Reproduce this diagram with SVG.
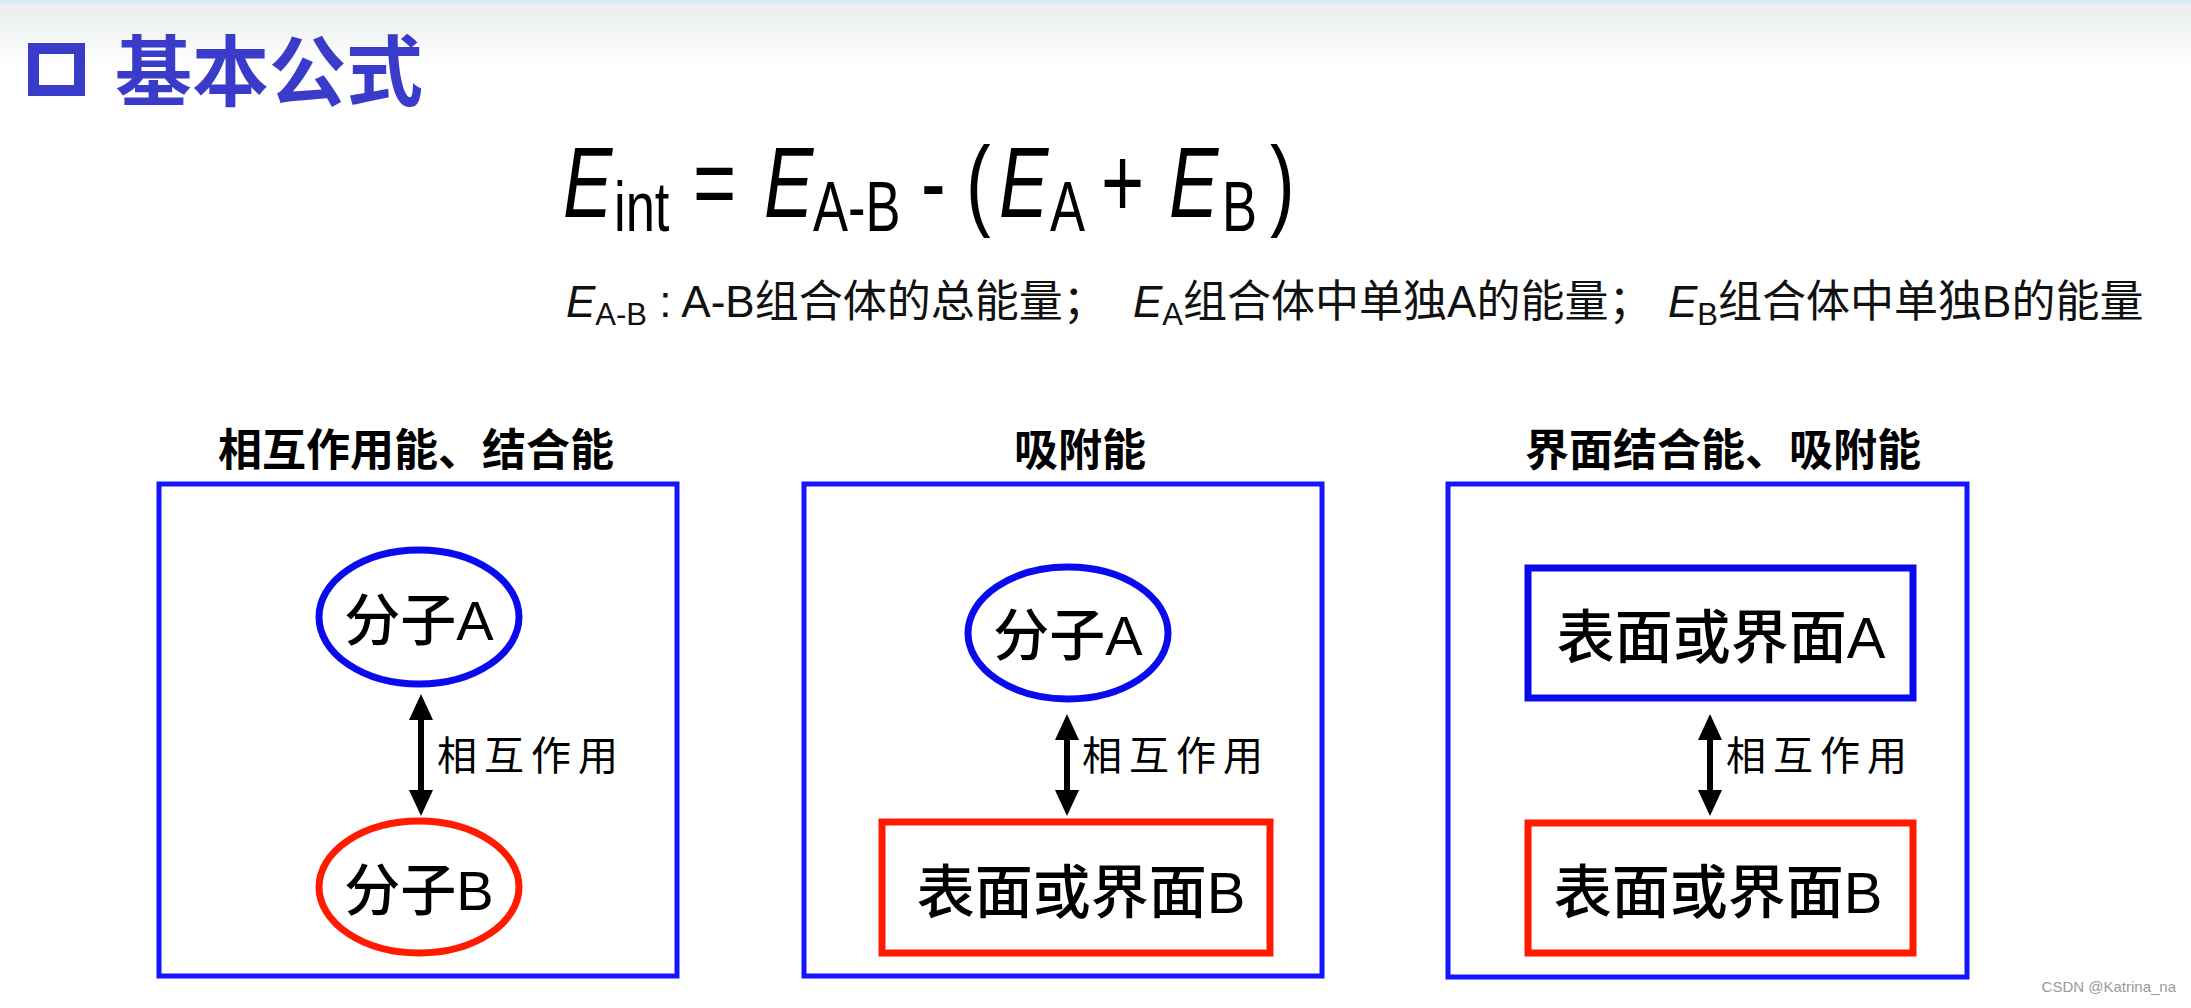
<svg xmlns="http://www.w3.org/2000/svg" width="2191" height="1008" viewBox="0 0 2191 1008">
<defs>
<linearGradient id="topband" x1="0" y1="0" x2="0" y2="1">
<stop offset="0" stop-color="#e9eded"/>
<stop offset="1" stop-color="#ffffff"/>
</linearGradient>
<marker id="ah" viewBox="0 0 26 24" refX="6" refY="12" markerWidth="26" markerHeight="24" markerUnits="userSpaceOnUse" orient="auto-start-reverse">
<path d="M0,0 L26,12 L0,24 z" fill="#000"/>
</marker>
</defs>
<style>
.title{font-family:"Noto Sans CJK SC",sans-serif;font-weight:bold;font-size:77px;fill:#3b3bc9}
.f{font-family:"Liberation Sans","Noto Sans CJK SC",sans-serif;fill:#000}
.fb{font-size:100px}
.fs{font-size:71px}
.it{font-style:italic}
.sub{font-family:"Liberation Sans","Noto Sans CJK SC",sans-serif;font-size:44px;fill:#111}
.ptitle{font-family:"Noto Sans CJK SC",sans-serif;font-weight:bold;font-size:44px;fill:#000;text-anchor:middle}
.panel{fill:none;stroke:#1414ff;stroke-width:5}
.blue{fill:none;stroke:#0a0aee;stroke-width:7}
.red{fill:none;stroke:#ff1a00;stroke-width:7}
.node{font-family:"Liberation Sans","Noto Sans CJK SC",sans-serif;font-size:56px;fill:#000;text-anchor:middle;font-weight:500}
.node2{font-family:"Liberation Sans","Noto Sans CJK SC",sans-serif;font-size:58px;fill:#000;text-anchor:middle;font-weight:500}
.lbl{font-family:"Noto Sans CJK SC",sans-serif;font-size:40px;fill:#000;letter-spacing:7px}
.arr{stroke:#000;stroke-width:6;fill:none;marker-start:url(#ah);marker-end:url(#ah)}
.wm{font-family:"Liberation Sans",sans-serif;font-size:15px;fill:#999;text-anchor:end}
</style>
<rect x="0" y="0" width="2191" height="1008" fill="#fff"/>
<rect x="0" y="0" width="2191" height="70" fill="url(#topband)"/>
<rect x="0" y="0" width="2191" height="3" fill="#d4ecf2"/>

<g id="heading">
<rect x="33.5" y="48.5" width="46" height="42" fill="none" stroke="#3b3bc9" stroke-width="11"/>
<text class="title" x="115" y="100">基本公式</text>
</g>

<g id="formula" transform="scale(0.74,1)">
<text class="f fb it" x="760.8" y="217">E</text>
<text class="f fs" x="829.7" y="231">int</text>
<text class="f fb" x="936.5" y="217">=</text>
<text class="f fb it" x="1032.4" y="217">E</text>
<text class="f fs" x="1098.6" y="231">A-B</text>
<text class="f fb" x="1244.6" y="217">-</text>
<text class="f fb" x="1305.4" y="217">(</text>
<text class="f fb it" x="1350" y="217">E</text>
<text class="f fs" x="1418.9" y="231">A</text>
<text class="f fb" x="1487.8" y="217">+</text>
<text class="f fb it" x="1579.7" y="217">E</text>
<text class="f fs" x="1651.4" y="231">B</text>
<text class="f fb" x="1716.2" y="217">)</text>
</g>

<g id="legend">
<text class="sub" x="566" y="317"><tspan class="it">E</tspan><tspan font-size="31" dy="8">A-B</tspan><tspan dy="-8"> : A-B组合体的总能量；</tspan><tspan class="it" x="1133">E</tspan><tspan font-size="31" dy="8">A</tspan><tspan dy="-8">组合体中单独A的能量；</tspan><tspan class="it" x="1668">E</tspan><tspan font-size="31" dy="8">B</tspan><tspan dy="-8">组合体中单独B的能量</tspan></text>
</g>

<g id="panel1">
<text class="ptitle" x="416" y="466">相互作用能、结合能</text>
<rect class="panel" x="159" y="484" width="518" height="492"/>
</g>
<g id="node-p1-A">
<ellipse class="blue" cx="419" cy="617" rx="100" ry="67"/>
<text class="node" x="419" y="640">分子A</text>
</g>
<g id="node-p1-B">
<ellipse class="red" cx="419" cy="887" rx="100" ry="66"/>
<text class="node" x="419" y="910">分子B</text>
</g>

<g id="panel2">
<text class="ptitle" x="1080" y="466">吸附能</text>
<rect class="panel" x="804" y="484" width="518" height="492"/>
</g>
<g id="node-p2-A">
<ellipse class="blue" cx="1068" cy="633" rx="100" ry="66"/>
<text class="node" x="1068" y="655">分子A</text>
</g>
<g id="node-p2-B">
<rect class="red" x="882" y="822" width="388" height="131"/>
<text class="node2" x="1081" y="913">表面或界面B</text>
</g>

<g id="panel3">
<text class="ptitle" x="1723" y="466">界面结合能、吸附能</text>
<rect class="panel" x="1448" y="484" width="519" height="493"/>
</g>
<g id="node-p3-A">
<rect class="blue" x="1528" y="568" width="385" height="130"/>
<text class="node2" x="1721" y="658">表面或界面A</text>
</g>
<g id="node-p3-B">
<rect class="red" x="1528" y="823" width="385" height="130"/>
<text class="node2" x="1718" y="913">表面或界面B</text>
</g>

<g id="connectors">
<line class="arr" x1="421" y1="714" x2="421" y2="796"/>
<text class="lbl" x="437" y="770">相互作用</text>
<line class="arr" x1="1067" y1="734" x2="1067" y2="796"/>
<text class="lbl" x="1082" y="770">相互作用</text>
<line class="arr" x1="1710" y1="734" x2="1710" y2="796"/>
<text class="lbl" x="1726" y="770">相互作用</text>
</g>

<text class="wm" x="2176" y="992">CSDN @Katrina_na</text>
</svg>
